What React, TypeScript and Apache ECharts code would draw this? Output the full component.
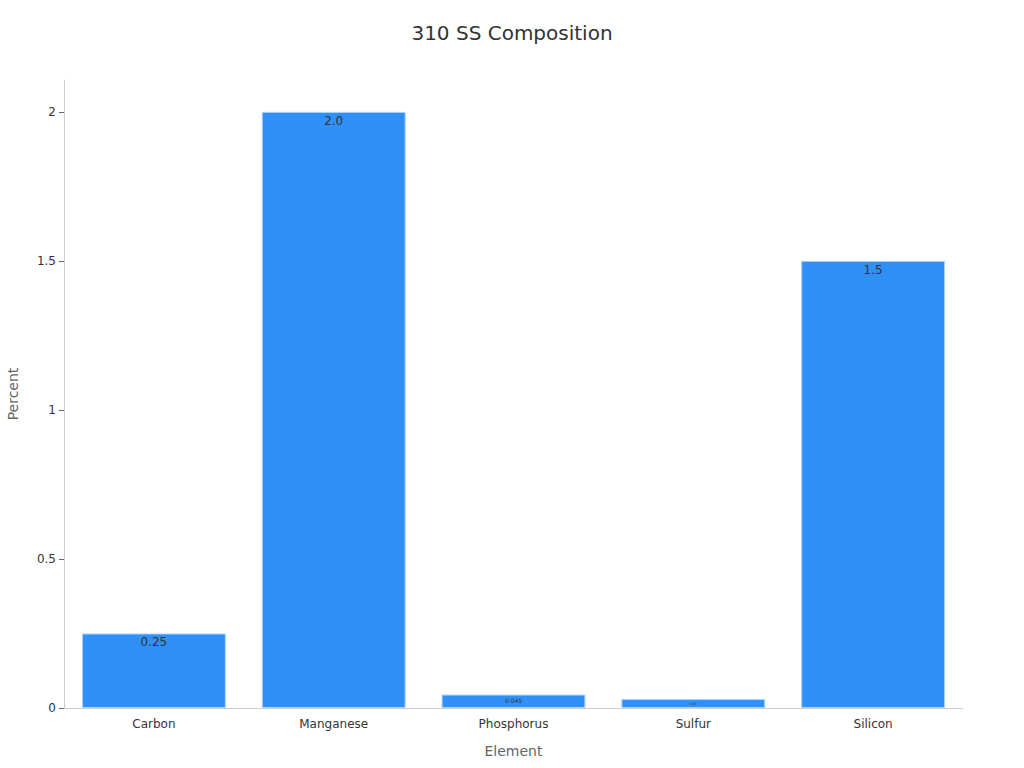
import { useEffect, useRef } from "react";
import * as echarts from "echarts";

// Chart data.
const ELEMENTS = ["Carbon", "Manganese", "Phosphorus", "Sulfur", "Silicon"];
const PERCENTS = [0.25, 2.0, 0.045, 0.03, 1.5];
const VALUE_LABELS = ["0.25", "2.0", "0.045", "0.03", "1.5"];
const LABEL_SIZES = [12, 12, 6, 3, 12];
const Y_TICKS = [0, 0.5, 1, 1.5, 2];

const FONT = "DejaVu Sans";
const BAR = "#2f91f8";

function buildOption() {
  return {
    animation: false,
    textStyle: { fontFamily: FONT },
    title: {
      text: "310 SS Composition",
      left: "center",
      top: 18,
      textStyle: { fontFamily: FONT, fontSize: 20, fontWeight: "normal", color: "#333" },
    },
    grid: { left: 64, right: 61, top: 80, bottom: 60, outerBoundsMode: "none" },
    xAxis: {
      type: "category",
      data: ELEMENTS,
      name: "Element",
      nameLocation: "middle",
      nameGap: 36,
      nameTextStyle: { fontFamily: FONT, fontSize: 14, color: "#666" },
      axisLine: { lineStyle: { color: "#ccc" } },
      axisTick: { alignWithLabel: true, lineStyle: { color: "#666" } },
      axisLabel: { fontFamily: FONT, fontSize: 12, color: "#333", margin: 10 },
    },
    yAxis: {
      type: "value",
      min: 0,
      max: 2.107,
      name: "Percent",
      nameLocation: "middle",
      nameGap: 44,
      nameTextStyle: { fontFamily: FONT, fontSize: 14, color: "#666" },
      splitLine: { show: false },
      axisLine: { show: true, lineStyle: { color: "#ccc" } },
      axisTick: { show: true, customValues: Y_TICKS, lineStyle: { color: "#666" } },
      axisLabel: {
        fontFamily: FONT,
        fontSize: 12,
        color: "#333",
        customValues: Y_TICKS,
        formatter: (v: number) => String(v),
      },
    },
    series: [
      {
        type: "bar",
        barWidth: "80%",
        itemStyle: { color: BAR, borderColor: "#a9d2fd", borderWidth: 1 },
        data: PERCENTS.map((v, i) => ({
          value: v,
          label: {
            show: true,
            position: "insideTop",
            distance: 3,
            fontFamily: FONT,
            fontSize: LABEL_SIZES[i],
            color: "#333",
            formatter: () => VALUE_LABELS[i],
          },
        })),
      },
    ],
  };
}

export default function App() {
  const ref = useRef<HTMLDivElement>(null);
  useEffect(() => {
    if (!ref.current) return;
    const chart = echarts.init(ref.current, undefined, { renderer: "svg" });
    chart.setOption(buildOption());
    return () => chart.dispose();
  }, []);
  return <div ref={ref} style={{ width: 1024, height: 768, position: "absolute", left: 0, top: 0 }} />;
}
